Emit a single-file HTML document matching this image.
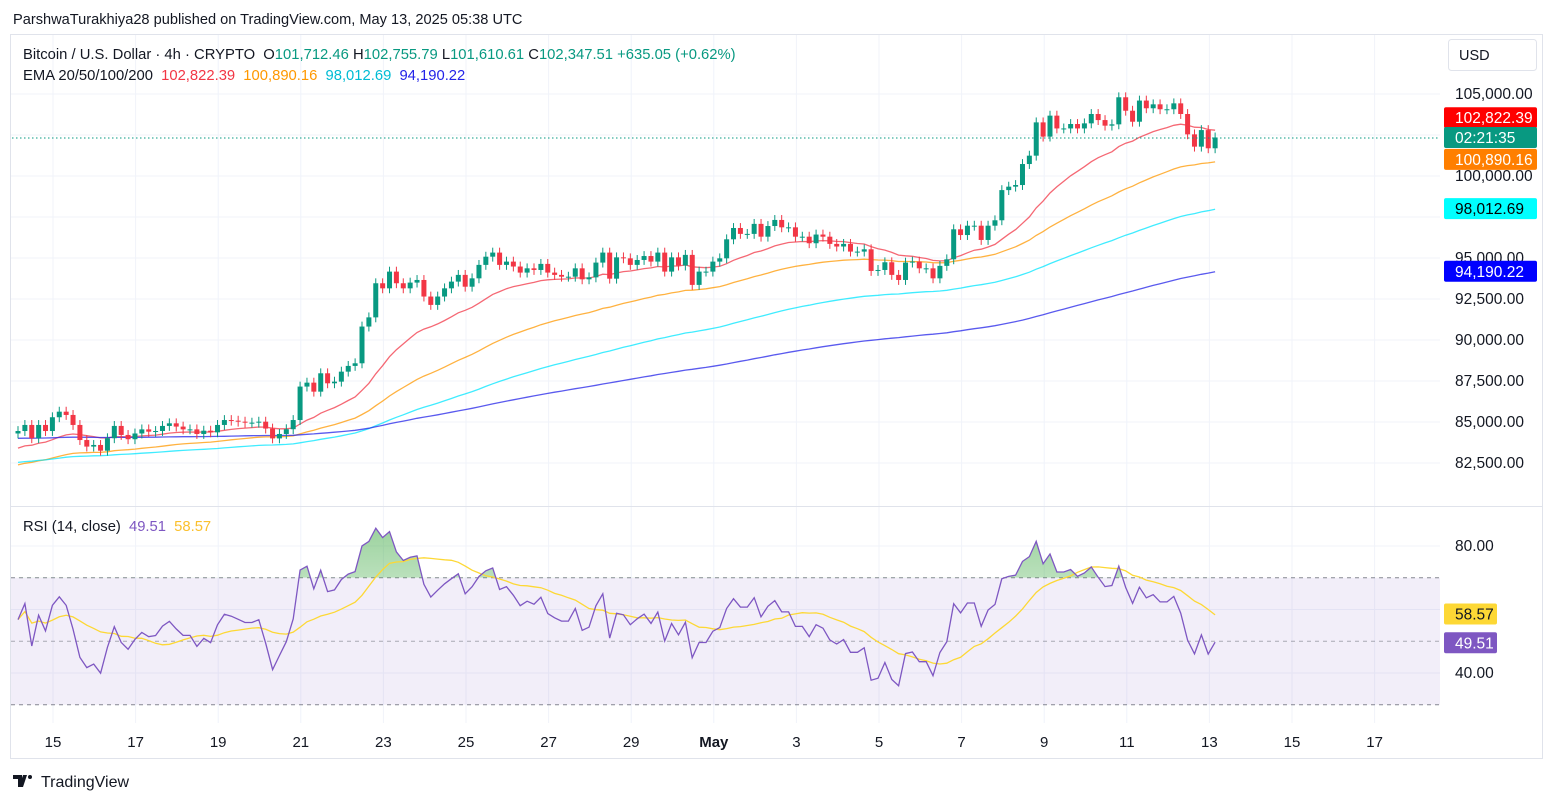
<!DOCTYPE html>
<html><head><meta charset="utf-8">
<style>
html,body{margin:0;padding:0;background:#fff;width:1553px;height:803px;overflow:hidden;font-family:"Liberation Sans",sans-serif;}
svg text{font-family:"Liberation Sans",sans-serif;}
</style></head>
<body>
<svg id="c" width="1553" height="803" xmlns="http://www.w3.org/2000/svg">
<text x="13" y="24" font-size="14.6" fill="#131722">ParshwaTurakhiya28 published on TradingView.com, May 13, 2025 05:38 UTC</text>
<rect x="10.5" y="34.5" width="1532" height="724" fill="none" stroke="#e0e3eb"/>
<g id="grid"></g>
<g id="rsibg"></g>
<g id="plot"></g>
<line x1="11" y1="506.5" x2="1542" y2="506.5" stroke="#e0e3eb"/>
<line x1="12" y1="138" x2="1440" y2="138" stroke="#089981" stroke-dasharray="1.5,2.5"/>
<g id="axis"></g>
<text x="23" y="59" font-size="14.8" fill="#131722">Bitcoin / U.S. Dollar · 4h · CRYPTO <tspan dx="4">O</tspan><tspan fill="#089981">101,712.46</tspan> H<tspan fill="#089981">102,755.79</tspan> L<tspan fill="#089981">101,610.61</tspan> C<tspan fill="#089981">102,347.51</tspan> <tspan fill="#089981">+635.05 (+0.62%)</tspan></text>
<text x="23" y="80" font-size="14.8" fill="#131722">EMA 20/50/100/200 <tspan dx="4" fill="#f23645">102,822.39</tspan> <tspan dx="4" fill="#ff9800">100,890.16</tspan> <tspan dx="4" fill="#00bcd4">98,012.69</tspan> <tspan dx="4" fill="#2323e8">94,190.22</tspan></text>
<text x="23" y="531" font-size="14.8" fill="#131722">RSI (14, close) <tspan dx="4" fill="#7e57c2">49.51</tspan> <tspan dx="4" fill="#fbc02d">58.57</tspan></text>
<rect x="1448.5" y="39.5" width="88" height="31" rx="3" fill="#fff" stroke="#e0e3eb"/>
<text x="1459" y="60" font-size="14.5" fill="#131722">USD</text>
<g>
<path d="M13 775h9v12h-4v-8h-5z M23 775h4l-4 12h-4z" fill="#131722"/>
<circle cx="30" cy="777" r="2" fill="#131722"/>
<text x="41" y="787" font-size="16" fill="#131722">TradingView</text>
</g>
</svg>
<script>
const closes=[84.45,84.82,84.01,84.82,84.45,85.29,85.63,85.43,84.82,83.9,83.5,83.6,83.25,84.01,84.76,84.21,83.95,84.3,84.55,84.41,84.45,84.76,84.92,84.72,84.55,84.55,84.27,84.47,84.37,84.82,85.12,85.08,85.02,84.96,84.96,85.02,84.6,84.0,84.27,84.56,85.12,
87.16,87.4,86.85,87.97,87.36,87.46,88.07,88.42,88.58,90.82,91.38,93.46,93.15,94.17,93.46,93.15,
93.5,93.66,92.65,92.14,92.65,93.15,93.56,93.97,93.25,93.76,94.58,95.08,95.33,94.58,94.78,94.48,94.11,94.37,94.27,94.64,94.11,93.97,93.86,93.86,94.37,93.7,93.82,94.72,95.33,93.74,95.04,94.98,94.58,94.88,95.12,94.78,95.33,94.17,95.04,94.54,95.19,93.36,94.17,94.17,94.78,94.98,96.14,96.83,96.47,96.47,97.08,96.3,96.95,97.32,96.87,96.87,96.3,96.3,95.9,96.43,96.3,95.86,95.7,95.86,95.39,95.39,95.53,94.21,94.27,94.74,93.97,93.66,94.72,94.78,94.37,94.37,93.76,94.52,94.92,96.75,96.4,96.97,96.97,96.1,96.97,97.3,99.14,99.35,99.45,100.73,101.24,103.27,102.4,103.68,102.9,102.9,103.17,102.9,103.21,103.78,103.41,103.07,103.15,104.8,103.98,103.31,104.6,104.13,104.37,104.07,104.07,104.43,103.78,102.54,101.79,102.8,101.69,102.35];
const firstOpen=84.3;
const emaPeriods=[20,50,100,200];
const emaSeeds=[83.3,82.3,82.5,84.0];
const emaColors=['#f23645','#ff9800','#00e5ff','#2323e8'];
const priceTicks=[105,100,95,92.5,90,87.5,85,82.5];
const priceTickLabels=['105,000.00','100,000.00','95,000.00','92,500.00','90,000.00','87,500.00','85,000.00','82,500.00'];
const gridPrices=[105,102.5,100,97.5,95,92.5,90,87.5,85,82.5];
const dateDays=[0,2,4,6,8,10,12,14,16,18,20,22,24,26,28,30,32];
const dateLabels=['15','17','19','21','23','25','27','29','May','3','5','7','9','11','13','15','17'];
const rsiTicks=[80,40];
const rsiTickLabels=['80.00','40.00'];
const priceTags=[[102.822,'102,822.39','#ff0000','#fff'],[102.347,'02:21:35','#089981','#fff'],[100.890,'100,890.16','#ff7f00','#fff'],[98.0127,'98,012.69','#00ffff','#000'],[94.190,'94,190.22','#0000ff','#fff']];
const tagShift=[-12,0,-2,0,0];
const rsiTags=[[58.57,'58.57','#fdd835','#131722'],[49.51,'49.51','#7e57c2','#fff']];

const NS='http://www.w3.org/2000/svg';
function el(t,a,p){const e=document.createElementNS(NS,t);for(const k in a)e.setAttribute(k,a[k]);p.appendChild(e);return e;}
const X=i=>18+i*6.88;
const dayX=d=>53+d*41.3;
const Y=p=>94+(105-p)*16.4;
const RY=v=>546+(80-v)*3.175;
const grid=document.getElementById('grid'),plot=document.getElementById('plot'),axis=document.getElementById('axis'),rbg=document.getElementById('rsibg');

gridPrices.forEach(p=>{const l=el('line',{x1:11,x2:1440,y1:Y(p),y2:Y(p),stroke:'#f0f3fa'},grid);

});
[80,60,40].forEach(v=>{const l=el('line',{x1:11,x2:1440,y1:RY(v),y2:RY(v),stroke:'#f0f3fa'},grid);

});
dateDays.forEach((d,i)=>{const x=dayX(d);const l=el('line',{x1:x,x2:x,y1:35,y2:723,stroke:'#f0f3fa'},grid);


const t=el('text',{x:x,y:747,'font-size':15,'text-anchor':'middle',fill:'#131722','font-weight':dateLabels[i]==='May'?'bold':'normal'},axis);t.textContent=dateLabels[i];

});

const band=el('rect',{x:11,y:RY(70),width:1429,height:RY(30)-RY(70),fill:'rgba(126,87,194,0.1)'},rbg);


[70,50,30].forEach(v=>{const l=el('line',{x1:11,x2:1440,y1:RY(v),y2:RY(v),stroke:'#787b86','stroke-dasharray':'4,4','stroke-width':1,opacity:v===50?0.6:0.9},rbg);

});

emaPeriods.forEach((n,k)=>{const a=2/(n+1);let e=emaSeeds[k];const pts=[];
closes.forEach((c,i)=>{e=e+a*(c-e);pts.push(X(i).toFixed(1)+','+Y(e).toFixed(1));});
const pl=el('polyline',{points:pts.join(' '),fill:'none',stroke:emaColors[k],'stroke-width':1.3,opacity:0.75},plot);

});

closes.forEach((c,i)=>{const o=i?closes[i-1]:firstOpen;const up=c>=o;const col=up?'#089981':'#f23645';
const hi=Math.max(o,c)+0.3,lo=Math.min(o,c)-0.3;const x=X(i);
const g=el('g',{},plot);


el('line',{x1:x,x2:x,y1:Y(hi),y2:Y(lo),stroke:col,'stroke-width':1},g);
const top=Y(Math.max(o,c)),h=Math.max(1,Math.abs(Y(o)-Y(c)));
el('rect',{x:x-2.5,y:top,width:5,height:h,fill:col},g);});

const rsi=[];let ag=0.12,al=0.1;
closes.forEach((c,i)=>{const o=i?closes[i-1]:firstOpen;const d=c-o;ag=(ag*13+Math.max(d,0))/14;al=(al*13+Math.max(-d,0))/14;rsi.push(100-100/(1+ag/al));});
const rma=rsi.map((v,i)=>{const s=rsi.slice(Math.max(0,i-13),i+1);return s.reduce((a,b)=>a+b,0)/s.length;});
const rpts=rsi.map((v,i)=>X(i).toFixed(1)+','+RY(v).toFixed(1));
const defs=el('defs',{},plot);
const cp=el('clipPath',{id:'ob'},defs);el('rect',{x:0,y:500,width:1440,height:RY(70)-500},cp);
const lg=el('linearGradient',{id:'gg',x1:0,y1:0,x2:0,y2:1},defs);
el('stop',{offset:'0','stop-color':'#4caf50','stop-opacity':0.55},lg);el('stop',{offset:'1','stop-color':'#4caf50','stop-opacity':0.03},lg);
const ob=el('polygon',{points:X(0)+','+RY(70)+' '+rpts.join(' ')+' '+X(closes.length-1)+','+RY(70),fill:'url(#gg)','clip-path':'url(#ob)'},plot);


const ml=el('polyline',{points:rma.map((v,i)=>X(i).toFixed(1)+','+RY(v).toFixed(1)).join(' '),fill:'none',stroke:'#fdd835','stroke-width':1.3},plot);


const rl=el('polyline',{points:rpts.join(' '),fill:'none',stroke:'#7e57c2','stroke-width':1.3},plot);



priceTicks.forEach((p,i)=>{const t=el('text',{x:1455,y:Y(p)+5,'font-size':15.5,fill:'#131722'},axis);t.textContent=priceTickLabels[i];

});
rsiTicks.forEach((v,i)=>{const t=el('text',{x:1455,y:RY(v)+5,'font-size':15.5,fill:'#131722'},axis);t.textContent=rsiTickLabels[i];

});
priceTags.forEach((tg,k)=>{const y=Y(tg[0])+tagShift[k];const g=el('g',{},axis);


el('rect',{x:1444,y:y-10.5,width:93,height:21,rx:2,fill:tg[2]},g);
const t=el('text',{x:1455,y:y+5.5,'font-size':15.5,fill:tg[3]},g);t.textContent=tg[1];});
rsiTags.forEach(tg=>{const y=RY(tg[0]);const g=el('g',{},axis);


el('rect',{x:1444,y:y-10.5,width:53,height:21,rx:2,fill:tg[2]},g);
const t=el('text',{x:1455,y:y+5.5,'font-size':15.5,fill:tg[3]},g);t.textContent=tg[1];});
</script>
</body></html>
